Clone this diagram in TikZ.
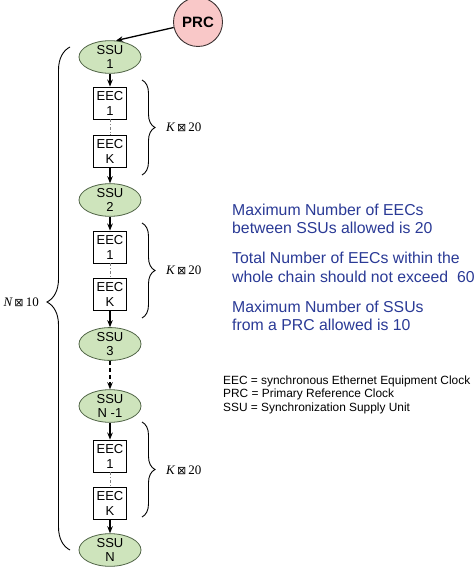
\documentclass[tikz,border=0pt]{standalone}
\usepackage{fontspec}
\setmainfont{Liberation Sans}
\newfontfamily\serifrm{Liberation Serif}
\newfontfamily\symfnt{DejaVu Sans}
\usetikzlibrary{arrows.meta,decorations.pathreplacing,shapes.geometric}
\definecolor{ssufill}{RGB}{206,228,188}
\definecolor{ssuline}{RGB}{80,100,70}
\definecolor{prcfill}{RGB}{249,200,200}
\definecolor{prcline}{RGB}{60,50,50}
\definecolor{notecol}{RGB}{42,58,150}
\begin{document}
\begin{tikzpicture}[x=1pt,y=-1pt,
  ssu/.style={ellipse,draw=ssuline,line width=0.8pt,fill=ssufill,minimum width=62pt,minimum height=31pt,inner sep=0pt,align=center,font=\fontsize{13}{14}\selectfont},
  eec/.style={rectangle,draw=black,line width=0.9pt,fill=white,minimum width=33pt,minimum height=32pt,inner sep=0pt,align=center,font=\fontsize{13}{15}\selectfont},
  prc/.style={circle,draw=prcline,line width=0.9pt,fill=prcfill,minimum size=49pt,inner sep=0pt,font=\fontsize{15}{16}\selectfont\bfseries},
  flow/.style={-{Stealth[length=7pt,width=5.5pt]},line width=1.3pt},
  dflow/.style={flow,dash pattern=on 4pt off 3pt},
  link/.style={draw=gray,line width=0.5pt,dash dot},
  rbrace/.style={decorate,decoration={brace,amplitude=13pt},line width=0.9pt},
  lbrace/.style={decorate,decoration={brace,amplitude=23pt,aspect=0.493},line width=0.9pt},
  klabel/.style={anchor=west,inner sep=0pt,font=\fontsize{13}{14}\selectfont},
  note/.style={anchor=base west,inner sep=0pt,text=notecol,font=\fontsize{15.8}{18}\selectfont},
  legend/.style={anchor=base west,inner sep=0pt,font=\fontsize{11.9}{13.5}\selectfont}
]
\useasboundingbox[fill=white] (0,0) rectangle (474,567);

% nodes
\node[prc] (prc) at (198,22) {PRC};
\node[ssu] (s1) at (110,57) {SSU\\1};
\node[eec] (a1) at (110,103) {EEC\\1};
\node[eec] (ak) at (110,151) {EEC\\K};
\node[ssu] (s2) at (110,200) {SSU\\2};
\node[eec] (b1) at (110,247) {EEC\\1};
\node[eec] (bk) at (110,294) {EEC\\K};
\node[ssu] (s3) at (110,344) {SSU\\3};
\node[ssu] (sn1) at (110,406) {SSU\\N -1};
\node[eec] (c1) at (110,456) {EEC\\1};
\node[eec] (ck) at (110,503) {EEC\\K};
\node[ssu] (sn) at (110,550) {SSU\\N};

% connectors
\draw[flow] (prc) -- (s1.70);
\draw[flow] (s1) -- (a1);
\draw[link] (a1) -- (ak);
\draw[flow] (ak) -- (s2);
\draw[flow] (s2) -- (b1);
\draw[link] (b1) -- (bk);
\draw[flow] (bk) -- (s3);
\draw[dflow] (s3) -- (sn1);
\draw[flow] (sn1) -- (c1);
\draw[link] (c1) -- (ck);
\draw[flow] (ck) -- (sn);

% braces
\coordinate (r1t) at (142,80);  \coordinate (r1b) at (142,175);
\coordinate (r2t) at (142,223); \coordinate (r2b) at (142,318);
\coordinate (r3t) at (142,422); \coordinate (r3b) at (142,517);
\coordinate (lt) at (70,47);    \coordinate (lb) at (70,550);
\draw[rbrace] (r1t) -- (r1b);
\draw[rbrace] (r2t) -- (r2b);
\draw[rbrace] (r3t) -- (r3b);
\draw[lbrace] (lb) -- (lt);

\node[klabel] (k1) at (166,127) {{\serifrm\itshape K}\,{\symfnt\fontsize{11}{12}\selectfont ⊠}\,{\serifrm 20}};
\node[klabel] (k2) at (166,270) {{\serifrm\itshape K}\,{\symfnt\fontsize{11}{12}\selectfont ⊠}\,{\serifrm 20}};
\node[klabel] (k3) at (166,470) {{\serifrm\itshape K}\,{\symfnt\fontsize{11}{12}\selectfont ⊠}\,{\serifrm 20}};
\node[klabel,anchor=east] (nl) at (39,302) {{\serifrm\itshape N}\,{\symfnt\fontsize{11}{12}\selectfont ⊠}\,{\serifrm 10}};

% notes
\node[note] (n1) at (232,215.7) {Maximum Number of EECs};
\node[note] (n2) at (232,233.7) {between SSUs allowed is 20};
\node[note] (n3) at (232,263.7) {Total Number of EECs within the};
\node[note] (n4) at (232,282.7) {whole chain should not exceed\ \ 60};
\node[note] (n5) at (232,312.7) {Maximum Number of SSUs};
\node[note] (n6) at (232,330.7) {from a PRC allowed is 10};

% legend
\node[legend] (g1) at (223,384.3) {EEC = synchronous Ethernet Equipment Clock};
\node[legend] (g2) at (223,397.6) {PRC = Primary Reference Clock};
\node[legend] (g3) at (223,411.1) {SSU = Synchronization Supply Unit};
\end{tikzpicture}
\end{document}
